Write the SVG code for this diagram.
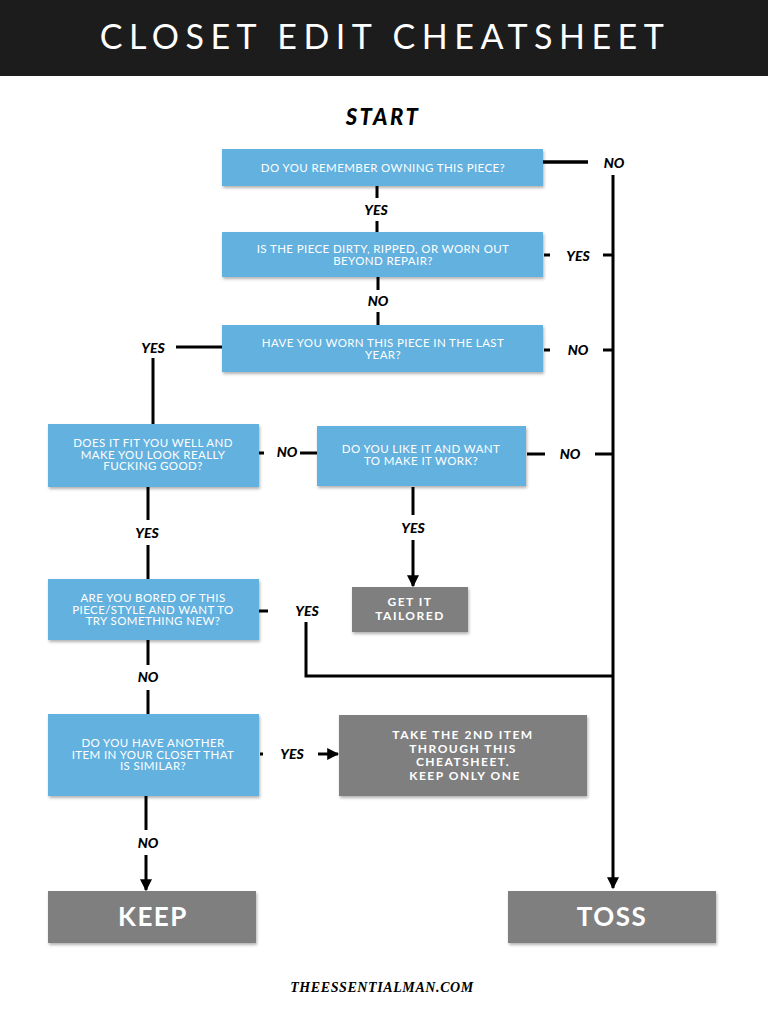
<svg xmlns="http://www.w3.org/2000/svg" width="768" height="1024" viewBox="0 0 768 1024">
<style>
.q{fill:#63b1df;filter:url(#sh)}
.g{fill:#7f7f7f;filter:url(#sh)}
.qt{font-family:Lato,"Open Sans",sans-serif;font-size:11.5px;fill:#fff;text-anchor:middle;letter-spacing:0.4px}
.gt{font-family:Lato,"Open Sans",sans-serif;font-size:12px;font-weight:bold;fill:#fff;text-anchor:middle;letter-spacing:1.5px}
.bt{font-family:Lato,"Open Sans",sans-serif;font-size:26px;font-weight:bold;fill:#fff;text-anchor:middle;letter-spacing:1.5px}
.l{font-family:Lato,"Open Sans",sans-serif;font-size:14px;font-weight:900;font-style:italic;fill:#000;text-anchor:middle}
.c{stroke:#000;stroke-width:3;fill:none}
</style>
<defs>
<filter id="sh" x="-10%" y="-10%" width="130%" height="140%"><feDropShadow dx="1" dy="2" stdDeviation="1.5" flood-opacity="0.3"/></filter>
<marker id="ar" viewBox="0 0 10 10" refX="9" refY="5" markerWidth="4" markerHeight="4" orient="auto"><path d="M0,0L10,5L0,10z" fill="#000"/></marker>
</defs>
<rect width="768" height="1024" fill="#fff"/>
<rect width="768" height="76" fill="#1c1c1c"/>
<text x="385" y="49" font-family="Lato,'Open Sans',sans-serif" font-size="34" fill="#fff" text-anchor="middle" letter-spacing="6.5">CLOSET EDIT CHEATSHEET</text>
<text x="383" y="125" font-family="Lato,'Open Sans',sans-serif" font-size="22" font-weight="900" font-style="italic" text-anchor="middle" letter-spacing="2.5">START</text>
<g id="connectors">
<path class="c" d="M543 162H588M613 175V888" marker-end="url(#ar)"/>
<path class="c" d="M543 162H588"/>
<path class="c" d="M377 186V198M377 221V233"/>
<path class="c" d="M544 255H550M603 255H613"/>
<path class="c" d="M378 277V290M378 312V325"/>
<path class="c" d="M222 347H176M153 358V425"/>
<path class="c" d="M544 350H550M603 350H613"/>
<path class="c" d="M259 453H264M300 453H317"/>
<path class="c" d="M527 454H545M595 454H613"/>
<path class="c" d="M413 487V515"/>
<path class="c" d="M413 540V586" marker-end="url(#ar)"/>
<path class="c" d="M148 487V520M148 545V579"/>
<path class="c" d="M259 611H268M306 622V676H613"/>
<path class="c" d="M148 640V665M148 690V714"/>
<path class="c" d="M260 754H263"/>
<path class="c" d="M318 754H338" marker-end="url(#ar)"/>
<path class="c" d="M146 796V830"/>
<path class="c" d="M146 855V890" marker-end="url(#ar)"/>
<text class="l" x="614" y="168">NO</text>
<text class="l" x="376" y="215">YES</text>
<text class="l" x="578" y="261">YES</text>
<text class="l" x="378" y="306">NO</text>
<text class="l" x="153" y="353">YES</text>
<text class="l" x="578" y="355">NO</text>
<text class="l" x="287" y="457">NO</text>
<text class="l" x="570" y="459">NO</text>
<text class="l" x="413" y="533">YES</text>
<text class="l" x="147" y="538">YES</text>
<text class="l" x="307" y="616">YES</text>
<text class="l" x="148" y="682">NO</text>
<text class="l" x="292" y="759">YES</text>
<text class="l" x="148" y="848">NO</text>
</g>
<g id="q1"><rect class="q" x="222" y="149" width="321" height="37"/><text class="qt" x="383" y="172">DO YOU REMEMBER OWNING THIS PIECE?</text></g>
<g id="q2"><rect class="q" x="222" y="232" width="321" height="45"/><text class="qt" x="383" y="253">IS THE PIECE DIRTY, RIPPED, OR WORN OUT</text><text class="qt" x="383" y="265">BEYOND REPAIR?</text></g>
<g id="q3"><rect class="q" x="222" y="325" width="321" height="47"/><text class="qt" x="383" y="347">HAVE YOU WORN THIS PIECE IN THE LAST</text><text class="qt" x="383" y="359">YEAR?</text></g>
<g id="q4"><rect class="q" x="48" y="424" width="211" height="63"/><text class="qt" x="153" y="447">DOES IT FIT YOU WELL AND</text><text class="qt" x="153" y="459">MAKE YOU LOOK REALLY</text><text class="qt" x="153" y="470">FUCKING GOOD?</text></g>
<g id="q5"><rect class="q" x="317" y="426" width="209" height="60"/><text class="qt" x="421" y="453">DO YOU LIKE IT AND WANT</text><text class="qt" x="421" y="465">TO MAKE IT WORK?</text></g>
<g id="tailor"><rect class="g" x="352" y="587" width="116" height="45"/><text class="gt" x="410" y="606">GET IT</text><text class="gt" x="410" y="620">TAILORED</text></g>
<g id="second"><rect class="g" x="339" y="715" width="248" height="81"/><text class="gt" x="463" y="739">TAKE THE 2ND ITEM</text><text class="gt" x="463" y="752.5">THROUGH THIS</text><text class="gt" x="463" y="766">CHEATSHEET.</text><text class="gt" x="465" y="779.5">KEEP ONLY ONE</text></g>
<g id="q6"><rect class="q" x="48" y="579" width="211" height="61"/><text class="qt" x="153" y="602">ARE YOU BORED OF THIS</text><text class="qt" x="153" y="614">PIECE/STYLE AND WANT TO</text><text class="qt" x="153" y="625">TRY SOMETHING NEW?</text></g>
<g id="q7"><rect class="q" x="48" y="714" width="211" height="82"/><text class="qt" x="153" y="747">DO YOU HAVE ANOTHER</text><text class="qt" x="153" y="759">ITEM IN YOUR CLOSET THAT</text><text class="qt" x="153" y="770">IS SIMILAR?</text></g>
<g id="keep"><rect class="g" x="48" y="891" width="208" height="52"/><text class="bt" x="153" y="926">KEEP</text></g>
<g id="toss"><rect class="g" x="508" y="891" width="208" height="52"/><text class="bt" x="612" y="926">TOSS</text></g>
<text x="382" y="992" font-family="'Liberation Serif',serif" font-size="14" font-weight="bold" font-style="italic" text-anchor="middle" letter-spacing="0.6">THEESSENTIALMAN.COM</text>
</svg>
